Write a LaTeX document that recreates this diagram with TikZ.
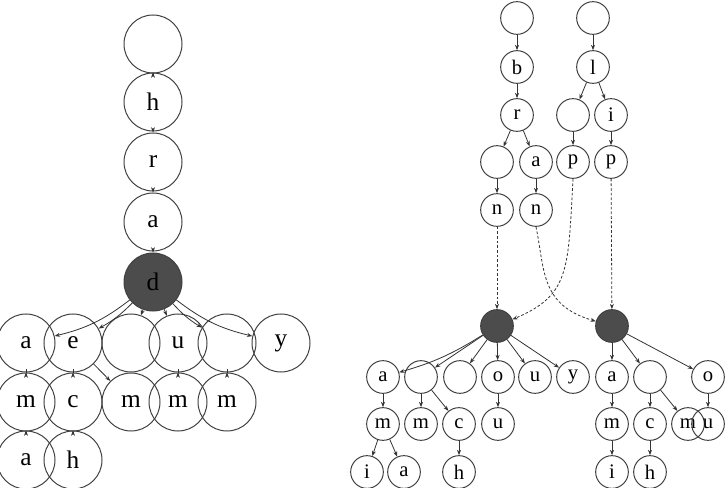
\documentclass[tikz,border=0pt]{standalone}
\usepackage{fontspec}
\setmainfont{Liberation Serif}
\usetikzlibrary{arrows.meta}
\tikzset{every picture/.style={line width=0.75pt}}
\tikzset{
  big/.style={draw=black!75,circle,minimum size=43.5pt,inner sep=0pt,font=\fontsize{19}{19}\selectfont},
  sm/.style={draw=black!75,circle,minimum size=24.5pt,inner sep=0pt,font=\fontsize{15.5}{15.5}\selectfont},
  bigd/.style={big,fill=black!70},
  smd/.style={sm,fill=black!70},
  edge/.style={-{Stealth[length=4pt,width=3pt]},black!80,line width=0.6pt},
  link/.style={edge,dash pattern={on 2pt off 1.5pt}}
}
\begin{document}
\begin{tikzpicture}[x=0.75pt,y=0.75pt,yscale=-1,xscale=1]
\useasboundingbox (0,0) rectangle (728,488);

% Left tree
\node[big] (L0) at (153,44) {};
\node[big] (Lh) at (153,102) {h};
\node[big] (Lr) at (153,162) {r};
\node[big] (La) at (153,222) {a};
\node[bigd] (Ld) at (153,282) {d};
\node[big] (L1) at (26,343) {a};
\node[big] (L2) at (73,343) {e};
\node[big] (L3) at (131,343) {};
\node[big] (L4) at (178,343) {u};
\node[big] (L5) at (227,343) {};
\node[big] (L6) at (281,343) {y};
\node[big] (L1m) at (26,402) {m};
\node[big] (L2c) at (73,402) {c};
\node[big] (L2m) at (131,402) {m};
\node[big] (L4m) at (178,402) {m};
\node[big] (L5m) at (227,402) {m};
\node[big] (L1a) at (26,460) {a};
\node[big] (L2h) at (73,460) {h};

\draw[edge] (L0) -- (Lh);
\draw[edge] (Lh) -- (Lr);
\draw[edge] (Lr) -- (La);
\draw[edge] (La) -- (Ld);
\draw[edge] (Ld) to[bend right=12] (L1);
\draw[edge] (Ld) to[bend right=8] (L2);
\draw[edge] (Ld) -- (L3);
\draw[edge] (Ld) -- (L4);
\draw[edge] (Ld) to[bend left=8] (L5);
\draw[edge] (Ld) to[bend left=12] (L6);
\draw[edge] (L1) -- (L1m);
\draw[edge] (L2) -- (L2c);
\draw[edge] (L2) -- (L2m);
\draw[edge] (L4) -- (L4m);
\draw[edge] (L5) -- (L5m);
\draw[edge] (L1m) -- (L1a);
\draw[edge] (L2c) -- (L2h);

% Right: upper trees
\node[sm] (R0) at (517,18) {};
\node[sm] (S0) at (593,18) {};
\node[sm] (Rb) at (517,67) {b};
\node[sm] (Sl) at (593,67) {l};
\node[sm] (Rr) at (517,115) {r};
\node[sm] (S1) at (573,115) {};
\node[sm] (S2) at (611,115) {i};
\node[sm] (R1) at (497,162) {};
\node[sm] (R2) at (536,162) {a};
\node[sm] (S1p) at (573,162) {p};
\node[sm] (S2p) at (611,162) {p};
\node[sm] (R1n) at (497,210) {n};
\node[sm] (R2n) at (536,210) {n};

\draw[edge] (R0) -- (Rb);
\draw[edge] (Rb) -- (Rr);
\draw[edge] (Rr) -- (R1);
\draw[edge] (Rr) -- (R2);
\draw[edge] (R1) -- (R1n);
\draw[edge] (R2) -- (R2n);
\draw[edge] (S0) -- (Sl);
\draw[edge] (Sl) -- (S1);
\draw[edge] (Sl) -- (S2);
\draw[edge] (S1) -- (S1p);
\draw[edge] (S2) -- (S2p);

% Right: lower trees
\node[smd] (D1) at (497,326) {};
\node[smd] (D2) at (612,326) {};
\node[sm] (A1) at (383,377) {a};
\node[sm] (A2) at (421,377) {};
\node[sm] (A3) at (460,377) {};
\node[sm] (A4) at (498,377) {o};
\node[sm] (A5) at (535,377) {u};
\node[sm] (A6) at (573,377) {y};
\node[sm] (B1) at (612,377) {a};
\node[sm] (B2) at (650,377) {};
\node[sm] (B3) at (708,377) {o};
\node[sm] (A1m) at (383,424) {m};
\node[sm] (A2m) at (421,424) {m};
\node[sm] (A2c) at (459,424) {c};
\node[sm] (A4u) at (498,424) {u};
\node[sm] (B1m) at (612,424) {m};
\node[sm] (B2c) at (650,424) {c};
\node[sm] (B2m) at (688,424) {m};
\node[sm] (B3u) at (708,424) {u};
\node[sm] (A1i) at (367,472) {i};
\node[sm] (A1a) at (404,472) {a};
\node[sm] (A2h) at (459,472) {h};
\node[sm] (B1i) at (612,472) {i};
\node[sm] (B2h) at (650,472) {h};

\draw[edge] (D1) to[bend right=8] (A1);
\draw[edge] (D1) -- (A2);
\draw[edge] (D1) -- (A3);
\draw[edge] (D1) -- (A4);
\draw[edge] (D1) -- (A5);
\draw[edge] (D1) -- (A6);
\draw[edge] (D2) -- (B1);
\draw[edge] (D2) -- (B2);
\draw[edge] (D2) -- (B3);
\draw[edge] (A1) -- (A1m);
\draw[edge] (A2) -- (A2m);
\draw[edge] (A2) -- (A2c);
\draw[edge] (A4) -- (A4u);
\draw[edge] (A1m) -- (A1i);
\draw[edge] (A1m) -- (A1a);
\draw[edge] (A2c) -- (A2h);
\draw[edge] (B1) -- (B1m);
\draw[edge] (B2) -- (B2c);
\draw[edge] (B2) -- (B2m);
\draw[edge] (B3) -- (B3u);
\draw[edge] (B1m) -- (B1i);
\draw[edge] (B2c) -- (B2h);

% Dashed links
\draw[link] (R1n) -- (D1);
\draw[link] (S2p) -- (D2);
\draw[link] (S1p.south) .. controls (568,270) and (570,295) .. (D1);
\draw[link] (R2n.south) .. controls (545,270) and (540,305) .. (D2);

\end{tikzpicture}
\end{document}
